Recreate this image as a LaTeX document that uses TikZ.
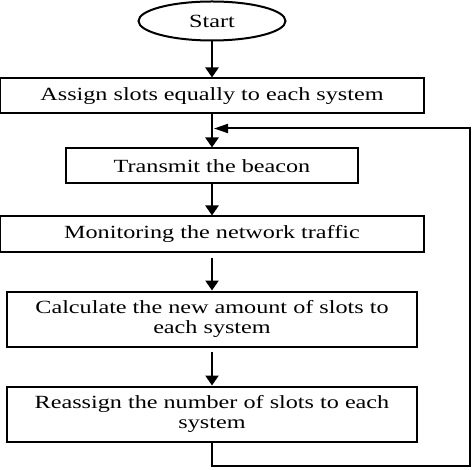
\documentclass[tikz,border=0pt]{standalone}
\usepackage{fontspec}
\setmainfont{Liberation Serif}[FakeStretch=1.3]
\usetikzlibrary{shapes.geometric, arrows.meta, positioning}

\begin{document}
\begin{tikzpicture}[
    node distance=18pt,
    box/.style={rectangle, draw, line width=1pt, outer sep=0pt, minimum height=17.5pt, align=center, inner sep=1pt, font=\fontsize{9.3pt}{10pt}\selectfont},
    startnode/.style={ellipse, draw, line width=1pt, outer sep=0pt, minimum width=73.5pt, minimum height=19.5pt, inner sep=0pt, font=\fontsize{9.3pt}{10pt}\selectfont},
    arrow/.style={-{Triangle[length=5pt, width=6.5pt]}, line width=1.2pt, shorten >=0.5pt},
    loopline/.style={-{Triangle[length=7pt, width=4.5pt]}, line width=1pt}
]
\useasboundingbox (-106pt,10.5pt) rectangle (131pt,-224pt);

\node[startnode] (start) at (0,0) {Start};
\node[box, minimum width=211.5pt, below=19pt of start] (assign) {Assign slots equally to each system};
\node[box, minimum width=146pt, below=17.5pt of assign] (beacon) {Transmit the beacon};
\node[box, minimum width=211.5pt, below=16.5pt of beacon] (monitor) {Monitoring the network traffic};
\node[box, minimum width=204.5pt, minimum height=27.5pt, below=20pt of monitor] (calc) {Calculate the new amount of slots to\\each system};
\node[box, minimum width=204.5pt, minimum height=27.5pt, below=20pt of calc] (reassign) {Reassign the number of slots to each\\system};

% loop back points
\coordinate[above=10pt of beacon.north] (join);
\coordinate[right=26.5pt of reassign.east] (loopx);

\draw[arrow] (start) -- (assign);
\draw[arrow] (assign) -- (beacon);
\draw[arrow] (beacon) -- (monitor);
\draw[arrow, shorten <=3pt] (monitor) -- (calc);
\draw[arrow, shorten <=2.5pt] (calc) -- (reassign);
\draw[loopline] (reassign.south) -- ++(0,-12pt) -| (loopx |- join) -- ([xshift=1pt]join);
\end{tikzpicture}
\end{document}
